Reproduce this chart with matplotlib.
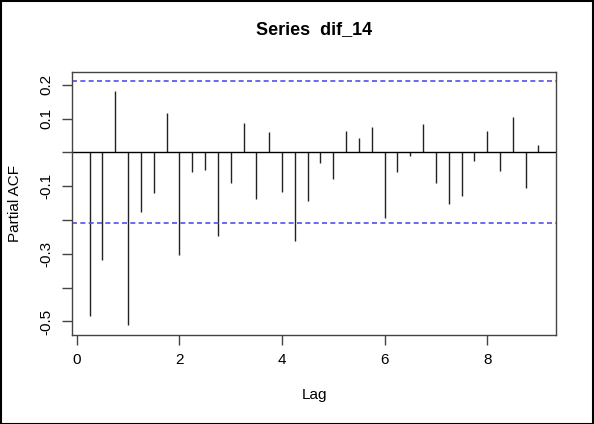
import matplotlib.pyplot as plt
import numpy as np

plt.rcParams['font.family'] = ['Liberation Sans', 'DejaVu Sans']

lags = np.arange(1, 37) * 0.25
pacf = [-0.483, -0.319, 0.182, -0.511, -0.176, -0.121, 0.118, -0.302,
        -0.058, -0.053, -0.248, -0.091, 0.088, -0.137, 0.061, -0.118,
        -0.261, -0.145, -0.032, -0.080, 0.063, 0.044, 0.074, -0.193,
        -0.059, -0.011, 0.083, -0.091, -0.154, -0.129, -0.026, 0.063,
        -0.055, 0.105, -0.105, 0.021]
clim = 0.21
yticks = [0.2, 0.1, 0.0, -0.1, -0.2, -0.3, -0.4, -0.5]
ylabels = ['0.2', '0.1', '', '-0.1', '', '-0.3', '', '-0.5']
xticks = [0, 2, 4, 6, 8]

fig = plt.figure(figsize=(5.94, 4.24), dpi=100)
ax = fig.add_axes([0.1207, 0.210, 0.816, 0.621])

ax.vlines(lags, 0, pacf, color='#222222', linewidth=1)
ax.axhline(0, color='black', linewidth=1)
ax.axhline(clim, color='#5050f0', linewidth=1.2, linestyle=(0, (3, 2)))
ax.axhline(-clim, color='#5050f0', linewidth=1.2, linestyle=(0, (3, 2)))

ax.set_xlim(-0.1, 9.35)
ax.set_ylim(-0.540, 0.239)
ax.set_xticks(xticks)
ax.set_yticks(yticks)
ax.set_yticklabels(ylabels, rotation=90, va='center')
ax.tick_params(length=7, width=1, color='#444444', labelsize=11, pad=6)
for s in ax.spines.values():
    s.set_color('#444444')
    s.set_linewidth(1)

ax.set_title('Series  dif_14', fontsize=13, fontweight='bold', pad=27)
ax.set_xlabel('Lag', fontsize=11, labelpad=15)
ax.set_ylabel('Partial ACF', fontsize=11, labelpad=13)

fig.patches.append(plt.Rectangle((0.001, 0.001), 0.997, 0.997, transform=fig.transFigure,
                                 fill=False, edgecolor='black', linewidth=1.5))

fig.savefig('out.png', dpi=100)
